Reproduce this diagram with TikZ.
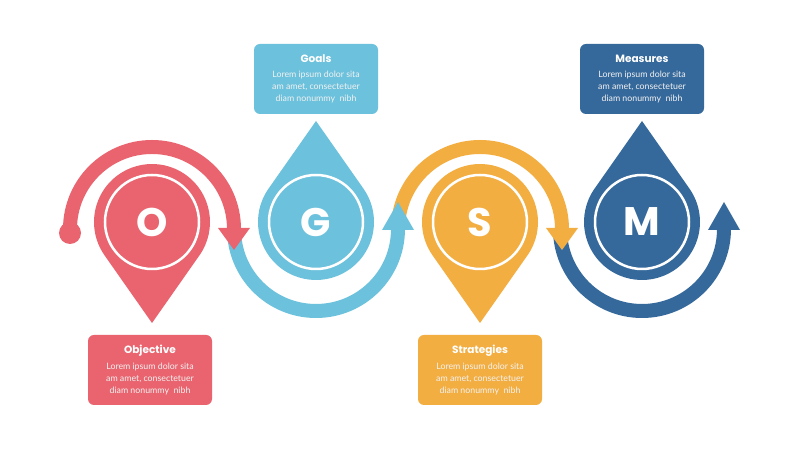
\documentclass[tikz,border=0pt]{standalone}
\usepackage{fontspec}
\setmainfont{Lato}
\newfontfamily\headfont{Poppins}
\definecolor{objred}{HTML}{E9646F}
\definecolor{goalblue}{HTML}{6CC1DC}
\definecolor{stratorange}{HTML}{F3AE42}
\definecolor{measblue}{HTML}{36699B}
\begin{document}
\begin{tikzpicture}[x=0.3mm,y=0.3mm,
    band/.style={line width=4.2mm},
    ring/.style={circle, draw=white, line width=0.75mm, minimum size=28.2mm,
      text=white, font=\headfont\bfseries\fontsize{34}{34}\selectfont},
    card/.style={rounded corners=1.8mm, minimum width=37.2mm, minimum height=21mm,
      text=white!90!gray, align=center, inner sep=0pt, font=\fontsize{7.5}{10.3}\selectfont}]
    \useasboundingbox (0,0) rectangle (800,450);
    \fill[white] (0,0) rectangle (800,450);
    % Draw dark blue arc under M
    \draw[band, measblue] (560,221) arc[start angle=180, end angle=360, radius=82];
    \fill[measblue] (708,220) -- (740,220) -- (724,248) -- cycle;
    % Draw orange arc over S
    \draw[band, stratorange] (398,221) arc[start angle=180, end angle=0, radius=82];
    \fill[stratorange] (546,222) -- (578,222) -- (562,200) -- cycle;
    % Draw light blue arc under G
    \draw[band, goalblue] (234,221) arc[start angle=180, end angle=360, radius=82];
    \fill[goalblue] (382,220) -- (414,220) -- (398,248) -- cycle;
    % Draw red arc over O
    \fill[objred] (70,217) circle[radius=11];
    \draw[band, objred] (70,217) -- (70,221) arc[start angle=180, end angle=0, radius=82];
    \fill[objred] (218,222) -- (250,222) -- (234,200) -- cycle;
    % Draw pins pointing down
    \fill[objred] (152,127) -- ([shift={(-35:58)}]152,228)
      arc[start angle=-35, end angle=215, radius=58] -- cycle;
    \fill[stratorange] (480,127) -- ([shift={(-35:58)}]480,228)
      arc[start angle=-35, end angle=215, radius=58] -- cycle;
    % Draw drops pointing up
    \fill[goalblue] (316,329) -- ([shift={(145:58)}]316,228)
      arc[start angle=145, end angle=395, radius=58] -- cycle;
    \fill[measblue] (642,329) -- ([shift={(145:58)}]642,228)
      arc[start angle=145, end angle=395, radius=58] -- cycle;
    % Letters
    \node[ring] (o) at (152,228) {O};
    \node[ring] (g) at (316,228) {G};
    \node[ring] (s) at (480,228) {S};
    \node[ring] (m) at (642,228) {M};
    % Text cards
    \node[card, fill=objred] (objective) at (150,80)
      {{\color{white}\headfont\bfseries\fontsize{9}{11}\selectfont Objective}\\[3pt]
       Lorem ipsum dolor sita\\am amet, consectetuer\\diam nonummy\ \ nibh};
    \node[card, fill=goalblue] (goals) at (316,371)
      {{\color{white}\headfont\bfseries\fontsize{9}{11}\selectfont Goals}\\[3pt]
       Lorem ipsum dolor sita\\am amet, consectetuer\\diam nonummy\ \ nibh};
    \node[card, fill=stratorange] (strategies) at (480,80)
      {{\color{white}\headfont\bfseries\fontsize{9}{11}\selectfont Strategies}\\[3pt]
       Lorem ipsum dolor sita\\am amet, consectetuer\\diam nonummy\ \ nibh};
    \node[card, fill=measblue] (measures) at (642,371)
      {{\color{white}\headfont\bfseries\fontsize{9}{11}\selectfont Measures}\\[3pt]
       Lorem ipsum dolor sita\\am amet, consectetuer\\diam nonummy\ \ nibh};
\end{tikzpicture}
\end{document}
